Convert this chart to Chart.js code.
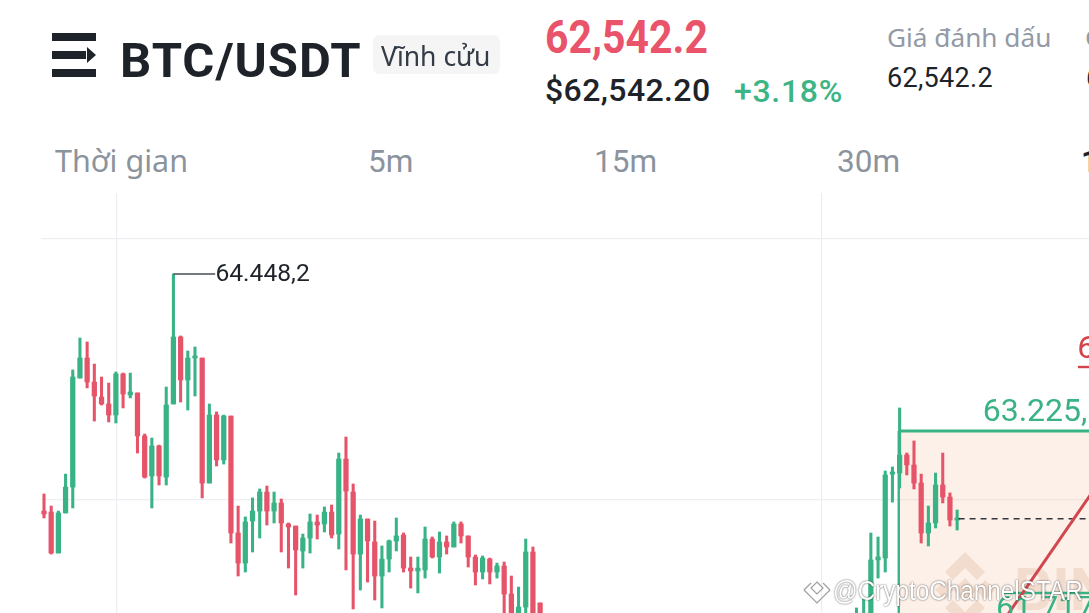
<!DOCTYPE html>
<html>
<head>
<meta charset="utf-8">
<script src="https://cdn.jsdelivr.net/npm/chart.js@4"></script>
<style>
  html, body { margin: 0; padding: 0; background: #fff; }
  #page { position: relative; width: 1089px; height: 613px; overflow: hidden; font-family: Roboto, sans-serif; color: #1e2329; }
  #page div { position: absolute; white-space: nowrap; line-height: 1; }
  #page svg { position: absolute; left: 0; top: 0; }
  #chart { position: absolute; left: 0; top: 193px; }
  .tab { font-size: 31.5px; color: #8b939d; top: 146px; }
  .plex { font-family: "Noto Sans", sans-serif; }
</style>
</head>
<body>
<div id="page">
  <svg width="1089" height="613" style="z-index:0">
    <!-- exchange watermark under the chart -->
    <g fill="#f0e4dc">
      <path d="M965 552 L985 572 L977 580 L965 568 L953 580 L945 572 Z"/>
      <path d="M965 578 L977 590 L965 602 L953 590 Z"/>
      <path d="M945 580 L954 590 L945 600 L935 590 Z"/>
      <path d="M985 580 L995 590 L985 600 L976 590 Z"/>
      <path d="M965 628 L985 608 L977 600 L965 612 L953 600 L945 608 Z"/>
    </g>
    <text x="1014" y="610" font-family="Roboto" font-weight="700" font-size="60" fill="#f0e4dc">BIN</text>
  </svg>
  <canvas id="chart" width="1089" height="420" style="z-index:1"></canvas>
  <svg width="1089" height="613" style="z-index:2">
    <!-- menu icon -->
    <g fill="#1e2329">
      <rect x="52" y="33" width="44" height="8"/>
      <rect x="52" y="51" width="34" height="8"/>
      <rect x="52" y="69" width="44" height="8"/>
      <path d="M87 47 L96 55 L87 63 Z"/>
    </g>
    <!-- reposter mark -->
    <g fill="none" stroke="#a0a0a0" stroke-width="1.2">
      <path d="M817 582 L823 588 L817 594 L811 588 Z"/>
      <path d="M804 590 L811 583"/>
      <path d="M830 590 L823 583"/>
      <path d="M804 590 L817 603 L830 590"/>
    </g>
  </svg>

  <div style="left:120px;top:36px;font-size:49px;font-weight:700;letter-spacing:1px;z-index:3">BTC/USDT</div>
  <div style="left:373px;top:35px;width:127px;height:39px;background:#f5f5f5;border-radius:6px"></div>
  <div class="plex" style="left:381px;top:43px;font-size:26.5px;color:#333b46;z-index:3">Vĩnh cửu</div>

  <div style="left:545px;top:14px;font-size:46px;font-weight:700;color:#e9546a;transform:scaleX(.89);transform-origin:0 0">62,542.2</div>
  <div style="left:545px;top:74px;font-size:32px;font-weight:500;letter-spacing:.4px">$62,542.20</div>
  <div style="left:734px;top:75px;font-size:32px;font-weight:500;letter-spacing:.7px;color:#3db485">+3.18%</div>

  <div class="plex" style="left:887px;top:24px;font-size:26.2px;color:#929aa5">Giá đánh dấu</div>
  <div style="left:887px;top:65px;font-size:27px;letter-spacing:.3px">62,542.2</div>
  <div class="plex" style="left:1085px;top:24px;font-size:26.2px;color:#929aa5">G</div>
  <div style="left:1086px;top:65px;font-size:27px">6</div>

  <div class="tab plex" style="left:55px;top:145px;font-size:30.5px">Thời gian</div>
  <div class="tab" style="left:368px">5m</div>
  <div class="tab" style="left:594px">15m</div>
  <div class="tab" style="left:837px">30m</div>
  <div class="tab" style="left:1081px;color:#1e2329;font-weight:700">1</div>

  <div style="left:833px;top:578px;font-family:'Liberation Sans',sans-serif;font-size:27px;color:#fff;text-shadow:0 0 2px rgba(0,0,0,.75);transform:scaleX(.9);transform-origin:0 0;z-index:3">@CryptoChannelSTAR</div>
</div>

<script>
// candles, numbered left to right. 70-112 sit below the visible range
const candleIndex = [
  0,1,2,3,4,5,6,7,8,9,10,11,12,13,14,15,16,17,18,19,20,21,22,23,24,25,26,27,28,29,
  30,31,32,33,34,35,36,37,38,39,40,41,42,43,44,45,46,47,48,49,50,51,52,53,54,55,56,57,58,59,
  60,61,62,63,64,65,66,67,68,69,
  113,114,115,116,117,118,119,120,121,122,123,124,125,126,127
];
const opens = [
  62602,62594,62275,62587,62789,63638,63794,63607,63490,63436,63350,63670,63506,63522,63187,62875,63109,62867,63436,63958,
  63623,63794,63794,62820,63350,63000,63342,62431,62197,62524,62602,62750,62602,62665,62501,62485,62291,62392,62517,62501,
  62594,62423,63007,62750,62267,62540,62361,62096,62228,62369,62415,62158,62135,62143,62384,62244,62361,62322,62501,62408,
  62244,62127,62228,62127,62174,61956,61760,61854,62283,61886,
  61720,61730,61790,62221,62236,62890,62898,63038,62961,62820,62431,62509,62805,62711,62532
];
const highs = [
  62735,62641,62602,62890,63701,63950,63919,63747,63646,63599,63685,63677,63677,63522,63202,63171,63116,63568,64448.2,63966,
  63849,63880,63794,63436,63374,63350,63342,62641,62556,62704,62774,62797,62750,62696,62509,62485,62423,62579,62571,62634,
  62649,63054,63179,62813,62571,62540,62524,62330,62376,62548,62431,62244,62244,62478,62400,62439,62408,62517,62517,62408,
  62260,62252,62236,62197,62205,62096,62010,62384,62322,61886,
  61847,61925,62431,62400,62914,62945,63405,63054,63148,62890,62641,62898,63054,62743,62610
];
const lows = [
  62548,62267,62275,62587,62626,63638,63561,63303,63428,63296,63288,63405,63483,63054,62859,62626,62805,62805,63436,63451,
  63389,63498,62704,62820,62953,62968,62353,62096,62127,62283,62392,62493,62509,62283,62158,61948,62158,62275,62384,62439,
  62392,62306,62143,61839,61987,62049,61909,61847,62127,62291,62127,62002,61964,62080,62236,62119,62267,62322,62353,62166,
  62026,62073,62034,62080,61750,61700,61700,61750,61720,61700,
  61700,61700,61720,62080,62127,62672,62781,62883,62774,62353,62330,62470,62665,62485,62454
];
const closes = [
  62579,62275,62587,62789,63646,63794,63607,63498,63436,63350,63670,63514,63529,63187,62867,63109,62875,63428,63958,63623,
  63794,63810,62820,63350,63000,63342,62431,62197,62517,62602,62750,62602,62665,62509,62478,62299,62392,62517,62493,62594,
  62415,63007,62758,62267,62540,62369,62096,62228,62369,62408,62158,62135,62158,62384,62244,62361,62322,62501,62408,62244,
  62127,62236,62127,62174,61956,61760,61854,62283,61780,61760,
  61780,61800,62221,62244,62883,62906,63038,62961,62820,62431,62509,62805,62711,62532,62542.2
];

// levels and drawn objects, in candle numbers and prices
const gridIndex = [10.1, 108.15];
const gridPrices = [64725, 62690];
const peakLabel = ['64.448,2'];
const peakLeader = [18, 23.8];
const lastPrice = [62542.2];
const lastPriceFrom = [127.2, 146];
const boxFrom = [119];
const boxTop = [63225];
const boxBottom = [61700];
const boxEnd = [146];
const upperLabel = ['63.225,'];
const lowerLevel = [61964];
const lowerLabel = ['61.717,'];
const redLevel = [63724];
const redLabel = ['6'];
const trendIndex = [131.6, 146];
const trendPrices = [61597, 62766];

const GREEN = '#39b385';
const RED = '#e6546a';

function candleColor(ctx) {
  const i = ctx.dataIndex;
  return closes[i] >= opens[i] ? GREEN : RED;
}

const drawnObjects = {
  id: 'drawnObjects',
  beforeDatasetsDraw(chart) {
    const { ctx, chartArea, scales } = chart;
    const left = scales.x.getPixelForValue(boxFrom[0]);
    const top = scales.y.getPixelForValue(boxTop[0]);
    ctx.save();
    ctx.fillStyle = 'rgba(248,200,170,0.27)';
    ctx.fillRect(left, top, chartArea.right - left, chartArea.bottom - top);
    ctx.restore();
  },
  afterDatasetsDraw(chart) {
    const { ctx, scales } = chart;
    const text = (s, idx, price, color, font) => {
      ctx.fillStyle = color;
      ctx.font = font;
      ctx.fillText(s, scales.x.getPixelForValue(idx), scales.y.getPixelForValue(price));
    };
    ctx.save();
    ctx.textBaseline = 'alphabetic';
    text(peakLabel[0], peakLeader[1] + 0.05, highs[18] - 53, '#1e2329', '24.6px Roboto');
    text(upperLabel[0], 130.55, boxTop[0] + 78, GREEN, '32px Roboto');
    text(lowerLabel[0], 132.4, lowerLevel[0] - 195, GREEN, '32px Roboto');
    text(redLabel[0], 143.7, redLevel[0] + 72, '#d4434a', '32px Roboto');
    ctx.restore();
  }
};

new Chart(document.getElementById('chart'), {
  data: {
    datasets: [
      { type: 'line', data: [{ x: trendIndex[0], y: trendPrices[0] }, { x: trendIndex[1], y: trendPrices[1] }],
        borderColor: '#d2464e', borderWidth: 3, pointRadius: 0 },
      { type: 'line', data: lastPriceFrom.map(x => ({ x, y: lastPrice[0] })),
        borderColor: '#33373d', borderWidth: 1.5, borderDash: [6, 5], pointRadius: 0 },
      { type: 'line', data: peakLeader.map(x => ({ x, y: highs[18] })),
        borderColor: '#474d57', borderWidth: 1.5, pointRadius: 0 },
      { type: 'line', data: [{ x: boxFrom[0] - 0.12, y: boxTop[0] }, { x: boxEnd[0], y: boxTop[0] }],
        borderColor: GREEN, borderWidth: 3, pointRadius: 0 },
      { type: 'line', data: [{ x: boxFrom[0] - 0.12, y: boxTop[0] }, { x: boxFrom[0] - 0.12, y: boxBottom[0] }],
        borderColor: GREEN, borderWidth: 2.4, pointRadius: 0 },
      { type: 'line', data: [{ x: 133.5, y: lowerLevel[0] }, { x: boxEnd[0], y: lowerLevel[0] }],
        borderColor: GREEN, borderWidth: 2.4, pointRadius: 0 },
      { type: 'line', data: [{ x: 143.8, y: redLevel[0] }, { x: boxEnd[0], y: redLevel[0] }],
        borderColor: '#d4434a', borderWidth: 2.4, pointRadius: 0 },
      { type: 'bar', grouped: false, barThickness: 4.6, minBarLength: 2,
        data: candleIndex.map((x, i) => ({ x, y: [Math.min(opens[i], closes[i]), Math.max(opens[i], closes[i])] })),
        backgroundColor: candleColor },
      { type: 'bar', grouped: false, barThickness: 2.4,
        data: candleIndex.map((x, i) => ({ x, y: [lows[i], highs[i]] })),
        backgroundColor: candleColor }
    ]
  },
  options: {
    responsive: false,
    animation: false,
    layout: { padding: { left: 41, right: 0, top: 0, bottom: 0 } },
    plugins: { legend: { display: false }, tooltip: { enabled: false } },
    scales: {
      x: {
        type: 'linear', offset: false, min: -0.417, max: 145.34,
        afterBuildTicks(axis) { axis.ticks = gridIndex.map(value => ({ value })); },
        ticks: { display: false },
        grid: { color: '#eceef1', lineWidth: 1.2, drawTicks: false, offset: false },
        border: { display: false }
      },
      y: {
        min: 61807.8, max: 65079.5,
        afterBuildTicks(axis) { axis.ticks = gridPrices.map(value => ({ value })); },
        ticks: { display: false },
        grid: { color: '#eceef1', lineWidth: 1.2, drawTicks: false },
        border: { display: false }
      }
    }
  },
  plugins: [drawnObjects]
});
</script>
</body>
</html>
